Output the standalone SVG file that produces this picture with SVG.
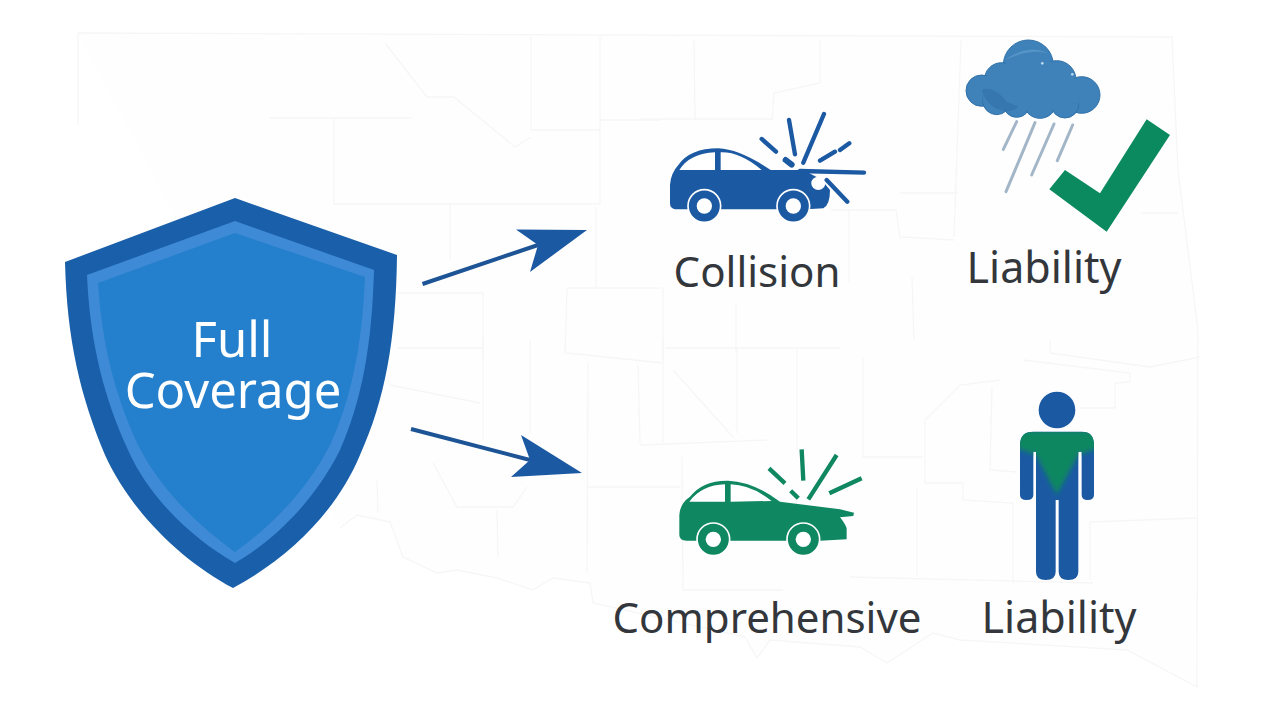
<svg xmlns="http://www.w3.org/2000/svg" width="1280" height="720" viewBox="0 0 1280 720">
<style>
.map{fill:none;stroke:#f6f6f6;stroke-width:1.3}
.lbl{font-family:"Noto Sans","Open Sans",sans-serif;font-size:42px;fill:#33373c;text-anchor:middle}
.lia{font-size:43px}
.title{font-family:"Noto Sans","Open Sans",sans-serif;font-size:49px;fill:#fff;text-anchor:middle}
.bl{stroke:#1b59a3;fill:none;stroke-linecap:round}
.gr{stroke:#0f8760;fill:none;stroke-linecap:butt}
.rain{stroke:#a3b6c8;stroke-width:9;stroke-linecap:round;fill:none}
.cl{fill:#3f82ba}
</style>
<defs>
<filter id="soft" x="-20%" y="-20%" width="140%" height="140%"><feGaussianBlur stdDeviation="8"/></filter>
<clipPath id="bodyClip"><path d="M108 600V215H100V345Q100 360 80 360Q60 360 60 345V195Q60 155 100 155H245Q282 155 282 195V345Q282 360 263 360Q245 360 245 345V215H235V575Q235 600 205 600Q176 600 176 575V360H167V575Q167 600 137 600Q108 600 108 575Z"/></clipPath>
</defs>
<rect width="1280" height="720" fill="#fff"/>
<g id="map">
<path d="M78 33L1172 37L1178 170L1198 330L1197 687L1127 650L960 640L933 633L887 663L860 647L770 640L757 658L745 637L593 603L590 583L553 578L533 590L497 578L457 570L437 573L403 557L390 522L357 515L340 528" fill="#fefefe" stroke="none"/>
<path class="map" d="M78 33L1172 37L1178 170L1198 330L1197 687L1127 650L960 640L933 633L887 663L860 647L770 640L757 658L745 637L593 603L590 583L553 578L533 590L497 578L457 570L437 573L403 557L390 522L357 515L340 528"/>
<path class="map" d="M78 33V125M270 118H412M334 118V204H600M531 37V130H600M600 37V204M600 120H660M385 43L427 97H454L515 147L531 137M450 204V260M596 207V287M567 288H660M567 288L565 355M397 293H483V360M397 348H483"/>
<path class="map" d="M483 340V440M530 340V433M588 363L587 573M567 353L663 363M638 365L640 443M663 340V443M640 445L767 440M673 370L733 437M737 347V433M797 350V450M665 348H840M587 487H680M682 457L683 590H783M390 385L480 403M377 480L378 513M433 463L457 507H513L527 487M497 510L498 557"/>
<path class="map" d="M694 40L695 120M640 119H772M820 40V83L774 93L772 120M961 40L954 237M900 193H958M831 210H896L900 237L954 240M849 210V283M912 277L914 340M663 287V360M736 303V353M1141 213H1178"/>
<path class="map" d="M863 357V457H923M925 420V483H963V500L1013 503V583M917 487V577M850 577L1093 583M1090 522L1197 518M1090 522V580M925 420L960 385L1000 380M992 387L990 470L1017 472M1023 360L1130 373V382L1115 383V408H1080M1050 340V353L1150 367L1200 357"/>
</g>
<g id="connectors">
<path d="M422.500 284L538 245" stroke="#1d5496" stroke-width="4" fill="none"/>
<path d="M516 229.500L587 230L530 272L538 245Z" fill="#1b59a3"/>
<path d="M411 429L530 460" stroke="#1d5496" stroke-width="4" fill="none"/>
<path d="M521 435L582 473L511 477L530 460Z" fill="#1b59a3"/>
</g>
<g id="shield">
<path d="M235 198L397 255C396 340 385 400 360 455C335 515 285 560 233 588C180 560 130 510 105 455C80 395 67 340 65 262Z" fill="#1a5fa9"/>
<path d="M235 221L374 270C372 345 362 400 340 450C315 500 275 540 235 563C195 540 150 500 128 450C105 400 90 345 87 275Z" fill="#3f8ad6"/>
<path d="M235 233L365 277C362 345 352 395 331 443C308 490 270 527 235 552C200 527 160 490 137 443C115 395 102 345 98 283Z" fill="#2480cc"/>
<text class="title"><tspan x="232" y="357">Full</tspan><tspan x="233" y="408">Coverage</tspan></text>
</g>
<g id="collision">
<g transform="translate(640 90) scale(.3333)">
<path d="M90 340V285Q92 250 115 225Q150 175 235 175Q300 178 392 240H480Q540 255 570 300Q570 345 550 355L500 358H150L105 358Q90 355 90 340Z" fill="#1b59a3"/>
<path d="M118 240Q150 190 225 187V240ZM242 187Q300 185 365 240H242Z" fill="#fff"/>
<ellipse cx="535" cy="280" rx="21" ry="20" fill="#fff"/>
<g fill="#1b59a3" stroke="#fff" stroke-width="5"><circle cx="193" cy="348" r="49"/><circle cx="460" cy="348" r="49"/></g>
<circle cx="193" cy="348" r="23" fill="#fff"/><circle cx="460" cy="348" r="23" fill="#fff"/>
<path class="bl" stroke-width="13" d="M480 243L672 248M365 147L408 185M447 90L465 193M552 72L490 218M540 212L585 185M600 180L628 160M560 270L622 335"/>
<path class="bl" stroke-width="18" d="M437 210L455 224"/>
</g>
<text class="lbl" x="757" y="287">Collision</text>
</g>
<g id="liability-weather">
<g transform="translate(950 30) scale(.3333)">
<path class="rain" d="M200 275L160 358M255 278L168 485M312 282L245 435M368 285L322 392"/>
<g class="cl" stroke="#2f70a8" stroke-width="3"><circle cx="235" cy="105" r="75"/><circle cx="155" cy="150" r="52"/><circle cx="95" cy="182" r="47"/><circle cx="320" cy="150" r="58"/><circle cx="395" cy="195" r="55"/><circle cx="140" cy="212" r="42"/><circle cx="200" cy="222" r="40"/><circle cx="270" cy="215" r="50"/><circle cx="345" cy="222" r="42"/></g>
<g class="cl"><circle cx="235" cy="110" r="70"/><circle cx="155" cy="155" r="48"/><circle cx="320" cy="155" r="54"/><circle cx="270" cy="210" r="48"/><circle cx="140" cy="210" r="40"/><circle cx="200" cy="218" r="38"/><circle cx="345" cy="218" r="40"/><rect x="100" y="150" width="290" height="70"/></g>
<path d="M95 180Q130 165 170 215L205 230Q180 255 135 235Q105 215 95 180Z" fill="#2f70a8" opacity=".55"/>
<path d="M165 90Q230 40 295 70Q240 55 165 90Z" fill="#6ba6d2" opacity=".5"/>
<circle cx="277" cy="100" r="4" fill="#b8d8ee"/><circle cx="367" cy="133" r="4" fill="#b8d8ee"/>
<polygon points="590,268 660,315 470,605 298,478 345,420 450,490" fill="#0b8a60"/>
</g>
<text class="lbl lia" x="1044" y="283">Liability</text>
</g>
<g id="comprehensive">
<g transform="translate(660 440) scale(.3333)">
<path d="M58 285V225Q60 190 90 170Q130 120 205 122Q280 125 360 185L540 208L582 218L580 228L540 232Q555 250 560 265V298L480 302H80Q58 302 58 285Z" fill="#0f8760"/>
<path d="M88 185Q125 135 195 133V185ZM212 133Q275 135 335 183L212 185Z" fill="#fff"/>
<g fill="#0f8760" stroke="#fff" stroke-width="5"><circle cx="160" cy="298" r="49"/><circle cx="430" cy="298" r="49"/></g>
<circle cx="160" cy="298" r="23" fill="#fff"/><circle cx="430" cy="298" r="23" fill="#fff"/>
<path class="gr" stroke-width="13" d="M327 85L375 130M425 28L430 122M530 45L445 178M508 160L605 115M392 152L415 175"/>
</g>
<text class="lbl" x="767" y="633">Comprehensive</text>
</g>
<g id="liability-person">
<g transform="translate(1000 380) scale(.3333)">
<circle cx="171" cy="90" r="55" fill="#1b59a3"/>
<path d="M108 600V215H100V345Q100 360 80 360Q60 360 60 345V195Q60 155 100 155H245Q282 155 282 195V345Q282 360 263 360Q245 360 245 345V215H235V575Q235 600 205 600Q176 600 176 575V360H167V575Q167 600 137 600Q108 600 108 575Z" fill="#1b59a3"/>
<g clip-path="url(#bodyClip)"><path d="M50 150H295V205L235 225L170 345L108 225L50 205Z" fill="#0f8760" filter="url(#soft)"/></g>
</g>
<text class="lbl lia" x="1059" y="633">Liability</text>
</g>
</svg>
